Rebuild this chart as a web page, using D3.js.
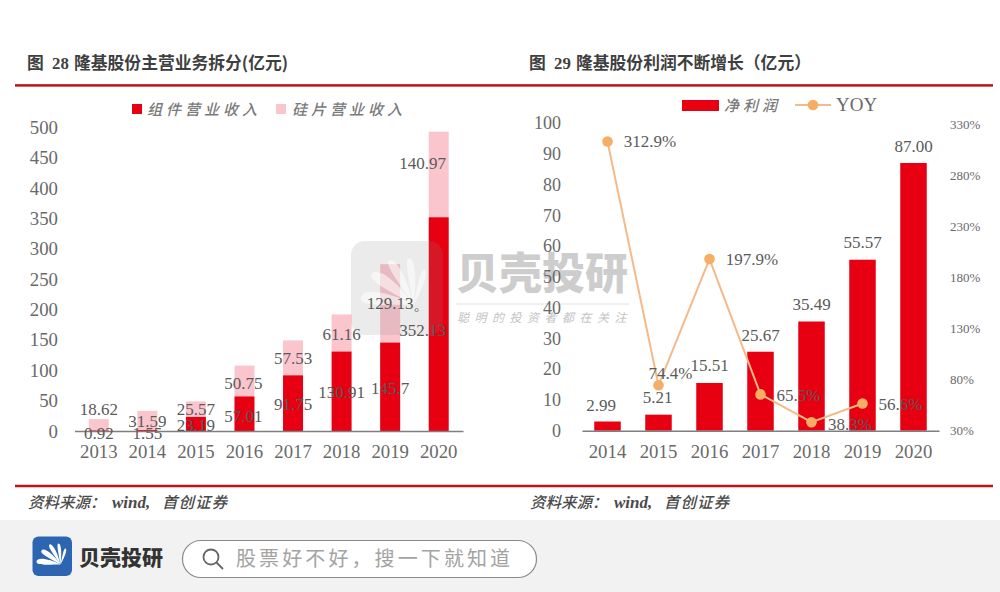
<!DOCTYPE html>
<html lang="zh">
<head>
<meta charset="utf-8">
<script src="https://cdn.jsdelivr.net/npm/d3@7/dist/d3.min.js"></script>
<style>
  html, body { margin: 0; padding: 0; background: #fff; }
  svg { display: block; }
  .num { font-family: "Liberation Serif", serif; fill: #696969; }
  .val { font-family: "Liberation Serif", serif; fill: #5a5a5a; }
  .cjk { font-family: "Noto Sans CJK SC", sans-serif; }
</style>
</head>
<body>
<svg id="chart" width="1000" height="592"></svg>
<script>
// Revenue split by business line, 100 million yuan
const revenueYears = ["2013","2014","2015","2016","2017","2018","2019","2020"];
const moduleRevenue = [0.92, 1.55, 23.19, 57.01, 91.75, 130.91, 145.7, 352.13];
const waferRevenue  = [18.62, 31.59, 25.57, 50.75, 57.53, 61.16, 129.13, 140.97];
const moduleLabels  = ["0.92","1.55","23.19","57.01","91.75","130.91","145.7","352.13"];
const waferLabels   = ["18.62","31.59","25.57","50.75","57.53","61.16","129.13","140.97"];
const revenueTicks  = [0, 50, 100, 150, 200, 250, 300, 350, 400, 450, 500];

// Net profit and its year-on-year growth
const profitYears = ["2014","2015","2016","2017","2018","2019","2020"];
const netProfit   = [2.99, 5.21, 15.51, 25.67, 35.49, 55.57, 87.00];
const yoyYears    = ["2014","2015","2016","2017","2018","2019"];
const yoyGrowth   = [312.9, 74.4, 197.9, 65.5, 38.3, 56.6];
const profitTicks = [0, 10, 20, 30, 40, 50, 60, 70, 80, 90, 100];
const yoyTicks    = [30, 80, 130, 180, 230, 280, 330];

// Label nudges relative to the mark each label belongs to
const moduleNudgeY = [2, 3, 1, 2, 1, 1, 1, 6];
const waferNudgeY  = [-16, 1, 0, 2, 0, 1, 0, -11];
const revenueNudgeX = [0, 0, 0, -1, 0, 0, 0, -16];
const profitNudge  = [[-6.5, 1], [-1, -1], [0, -0.5], [0, 0], [0, 0], [0, -0.5], [0, 0]];
const yoyNudge     = [[42.5, 0], [12, -12.5], [42.5, 0], [38, 1], [38.5, 2], [38, 1]];

const RED = "#e60012", PINK = "#fbc5cd", LINE = "#f4ba8a", DOT = "#f6ad65", RULE = "#bd141b", AXIS = "#7f7f7f";
const svg = d3.select("#chart");
svg.append("rect").attr("width", 1000).attr("height", 592).attr("fill", "#fff");
const marksLayer = svg.append("g");
const brandLayer = svg.append("g");
const textLayer  = svg.append("g");

// Section titles and the red rules above and below the charts
[[27, 52, 74, "28", "隆基股份主营业务拆分(亿元)"], [529, 554, 576, "29", "隆基股份利润不断增长（亿元）"]].forEach(([xa, xb, xc, n, b]) => {
  const t = textLayer.append("text").attr("class", "cjk").attr("y", 69)
    .attr("font-size", 16.8).attr("font-weight", 700).attr("fill", "#3f3f3f");
  t.append("tspan").attr("x", xa).text("图");
  t.append("tspan").attr("x", xb).attr("font-family", "Liberation Serif").text(n);
  t.append("tspan").attr("x", xc).text(b);
});
[85.4, 486].forEach(y => marksLayer.append("rect").attr("x", 15).attr("y", y - 1.25).attr("width", 978).attr("height", 2.5).attr("fill", RULE));
[28, 530].forEach(x => {
  const t = textLayer.append("text").attr("class", "cjk").attr("y", 508)
    .attr("font-size", 15.5).attr("font-style", "italic").attr("font-weight", 500).attr("fill", "#4a4a4a");
  t.append("tspan").attr("x", x).text("资料来源：");
  t.append("tspan").attr("x", x + 84).attr("font-family", "Liberation Serif").attr("font-weight", 700).attr("font-size", 17).text("wind,");
  t.append("tspan").attr("x", x + 134).attr("letter-spacing", 1).text("首创证券");
});

function styleAxis(g, size, keepDomain) {
  if (keepDomain) g.select(".domain").attr("stroke", AXIS).attr("stroke-width", 1.5);
  else g.select(".domain").remove();
  g.selectAll(".tick line").remove();
  g.attr("font-family", null);
  g.selectAll("text").attr("class", "num").attr("font-size", size);
}
const valueLabel = (x, y, s) => textLayer.append("text").attr("class", "val").attr("x", x).attr("y", y)
  .attr("dy", "0.35em").attr("text-anchor", "middle").attr("font-size", 17).text(s);

// Left chart: stacked revenue bars
const x1 = d3.scaleBand().domain(revenueYears).range([74.5, 463]);
const y1 = d3.scaleLinear().domain([0, 500]).range([431, 127.5]);
const barW1 = 20;
const cx1 = d => x1(d) + x1.bandwidth() / 2;
marksLayer.selectAll("rect.wafer").data(revenueYears).join("rect").attr("class", "wafer")
  .attr("x", d => cx1(d) - barW1 / 2).attr("width", barW1)
  .attr("y", (d, i) => y1(moduleRevenue[i] + waferRevenue[i]))
  .attr("height", (d, i) => y1(moduleRevenue[i]) - y1(moduleRevenue[i] + waferRevenue[i]))
  .attr("fill", PINK);
marksLayer.selectAll("rect.module").data(revenueYears).join("rect").attr("class", "module")
  .attr("x", d => cx1(d) - barW1 / 2).attr("width", barW1)
  .attr("y", (d, i) => y1(moduleRevenue[i]))
  .attr("height", (d, i) => y1(0) - y1(moduleRevenue[i]))
  .attr("fill", RED);
textLayer.append("g").attr("transform", "translate(0,431)")
  .call(d3.axisBottom(x1).tickSizeOuter(0).tickSize(0).tickPadding(14))
  .call(g => styleAxis(g, 18.8, true));
textLayer.append("g").attr("transform", "translate(58,0)")
  .call(d3.axisLeft(y1).tickValues(revenueTicks).tickSize(0).tickPadding(0))
  .call(g => styleAxis(g, 18.8, false));

revenueYears.forEach((yr, i) => {
  const m = moduleRevenue[i], w = waferRevenue[i];
  const cx = cx1(yr) + revenueNudgeX[i];
  valueLabel(cx, (y1(0) + y1(m)) / 2 + moduleNudgeY[i], moduleLabels[i]);
  const wy = (y1(m) + y1(m + w)) / 2 + waferNudgeY[i];
  valueLabel(cx, wy, waferLabels[i]);
  if (yr === "2019") valueLabel(cx + 31, wy + 1, "。");
});

// Left legend
const legend1 = textLayer.append("g").attr("class", "cjk").attr("font-size", 15).attr("font-weight", 500).attr("fill", "#7a7a7a");
legend1.append("rect").attr("x", 132).attr("y", 104).attr("width", 10).attr("height", 10).attr("fill", RED);
legend1.append("text").attr("x", 147).attr("y", 115).attr("letter-spacing", 4).attr("font-style", "italic").text("组件营业收入");
legend1.append("rect").attr("x", 276).attr("y", 104).attr("width", 10).attr("height", 10).attr("fill", PINK);
legend1.append("text").attr("x", 292).attr("y", 115).attr("letter-spacing", 4).attr("font-style", "italic").text("硅片营业收入");

// Right chart: net profit bars with the growth line on a second axis
const x2 = d3.scaleBand().domain(profitYears).range([582, 939]);
const y2 = d3.scaleLinear().domain([0, 100]).range([430.7, 123]);
const y3 = d3.scaleLinear().domain([30, 330]).range([430.7, 124]);
const barW2 = 26.5;
const cx2 = d => x2(d) + x2.bandwidth() / 2;
marksLayer.append("g").selectAll("rect").data(profitYears).join("rect")
  .attr("x", d => cx2(d) - barW2 / 2).attr("width", barW2)
  .attr("y", (d, i) => y2(netProfit[i]))
  .attr("height", (d, i) => y2(0) - y2(netProfit[i]))
  .attr("fill", RED);
textLayer.append("g").attr("transform", "translate(0,430.7)")
  .call(d3.axisBottom(x2).tickSize(0).tickSizeOuter(0).tickPadding(14))
  .call(g => styleAxis(g, 18.8, true));
textLayer.append("g").attr("transform", "translate(561,0)")
  .call(d3.axisLeft(y2).tickValues(profitTicks).tickSize(0).tickPadding(0))
  .call(g => styleAxis(g, 18, false));
textLayer.append("g").attr("transform", "translate(950,0)")
  .call(d3.axisRight(y3).tickValues(yoyTicks).tickSize(0).tickPadding(0).tickFormat(d => d + "%"))
  .call(g => styleAxis(g, 13, false));

profitYears.forEach((yr, i) => valueLabel(cx2(yr) + profitNudge[i][0], y2(netProfit[i]) - 17 + profitNudge[i][1], netProfit[i].toFixed(2)));

const yoyLine = d3.line().x((d, i) => cx2(yoyYears[i])).y(d => y3(d));
textLayer.append("path").datum(yoyGrowth).attr("d", yoyLine).attr("fill", "none").attr("stroke", LINE).attr("stroke-width", 2);
textLayer.append("g").selectAll("circle").data(yoyGrowth).join("circle")
  .attr("cx", (d, i) => cx2(yoyYears[i])).attr("cy", d => y3(d)).attr("r", 5.3).attr("fill", DOT);
yoyGrowth.forEach((v, i) => valueLabel(cx2(yoyYears[i]) + yoyNudge[i][0], y3(v) + yoyNudge[i][1], v.toFixed(1) + "%"));

// Right legend
textLayer.append("rect").attr("x", 682).attr("y", 100).attr("width", 37).attr("height", 11).attr("fill", RED);
textLayer.append("text").attr("class", "cjk").attr("x", 724).attr("y", 111).attr("font-size", 15).attr("letter-spacing", 4)
  .attr("font-weight", 500).attr("font-style", "italic").attr("fill", "#7a7a7a").text("净利润");
textLayer.append("line").attr("x1", 795).attr("x2", 831).attr("y1", 105).attr("y2", 105).attr("stroke", LINE).attr("stroke-width", 2);
textLayer.append("circle").attr("cx", 813).attr("cy", 105).attr("r", 5.3).attr("fill", DOT);
textLayer.append("text").attr("class", "num").attr("x", 836).attr("y", 111).attr("font-size", 19).text("YOY");

// Fan emblem: round-tipped petals radiating from a pivot, scaled to a 40-unit box
const petals = [
  [-24, -3, 5], [-19, -14, 4.4], [-11, -20, 3.4], [-2, -21, 2.8], [5, -16, 2.2]
];
function fan(g, ox, oy, k, fill) {
  // pivot sits toward the lower right of the box
  const px = ox + 28 * k, py = oy + 28 * k;
  petals.forEach(([tx, ty, w]) => {
    const dx = tx * k, dy = ty * k;
    const len = Math.hypot(dx, dy);
    const nx = -dy / len * w * k, ny = dx / len * w * k;
    const p = d3.path();
    p.moveTo(px, py);
    p.bezierCurveTo(px + 0.5 * dx + nx * 0.9, py + 0.5 * dy + ny * 0.9, px + dx + nx, py + dy + ny, px + dx, py + dy);
    p.bezierCurveTo(px + dx - nx * 0.8, py + dy - ny * 0.8, px + 0.6 * dx - nx * 0.4, py + 0.6 * dy - ny * 0.4, px, py);
    g.append("path").attr("d", p.toString()).attr("fill", fill);
  });
}

// Translucent brand mark across the middle of the page
brandLayer.append("rect").attr("x", 351).attr("y", 241).attr("width", 92).attr("height", 94).attr("rx", 14)
  .attr("fill", "#8a8a8a").attr("opacity", 0.17);
fan(brandLayer, 352, 243, 2.2, "rgba(255,255,255,0.55)");
brandLayer.append("text").attr("class", "cjk").attr("x", 456).attr("y", 289).attr("font-size", 43).attr("font-weight", 900)
  .attr("fill", "#a6a6a6").attr("opacity", 0.55).text("贝壳投研");
brandLayer.append("line").attr("x1", 456).attr("x2", 629).attr("y1", 304).attr("y2", 304).attr("stroke", "#e2e2e2");
brandLayer.append("text").attr("class", "cjk").attr("x", 457).attr("y", 322).attr("font-size", 12).attr("letter-spacing", 5.5)
  .attr("font-style", "italic").attr("fill", "#c4c4c4").text("聪明的投资者都在关注");

// Footer band with logo and search box
svg.append("rect").attr("y", 520).attr("width", 1000).attr("height", 72).attr("fill", "#f2f2f2");
svg.append("rect").attr("x", 32.5).attr("y", 536.5).attr("width", 39.5).attr("height", 39.5).attr("rx", 6).attr("fill", "#2c65b1");
fan(svg.append("g"), 32.5, 536.5, 1, "#fff");
svg.append("text").attr("class", "cjk").attr("x", 79).attr("y", 565).attr("font-size", 21).attr("font-weight", 900)
  .attr("fill", "#333").text("贝壳投研");
svg.append("rect").attr("x", 182.5).attr("y", 540.5).attr("width", 354).attr("height", 37).attr("rx", 18.5)
  .attr("fill", "#fff").attr("stroke", "#8a8a8a").attr("stroke-width", 1.2);
svg.append("circle").attr("cx", 211).attr("cy", 557).attr("r", 7.5).attr("fill", "none").attr("stroke", "#666").attr("stroke-width", 1.8);
svg.append("line").attr("x1", 216.5).attr("y1", 562.5).attr("x2", 223).attr("y2", 569).attr("stroke", "#666").attr("stroke-width", 1.8);
svg.append("text").attr("class", "cjk").attr("x", 236).attr("y", 566).attr("font-size", 20).attr("letter-spacing", 3.1)
  .attr("fill", "#a3a3a3").text("股票好不好，搜一下就知道");
</script>
</body>
</html>
